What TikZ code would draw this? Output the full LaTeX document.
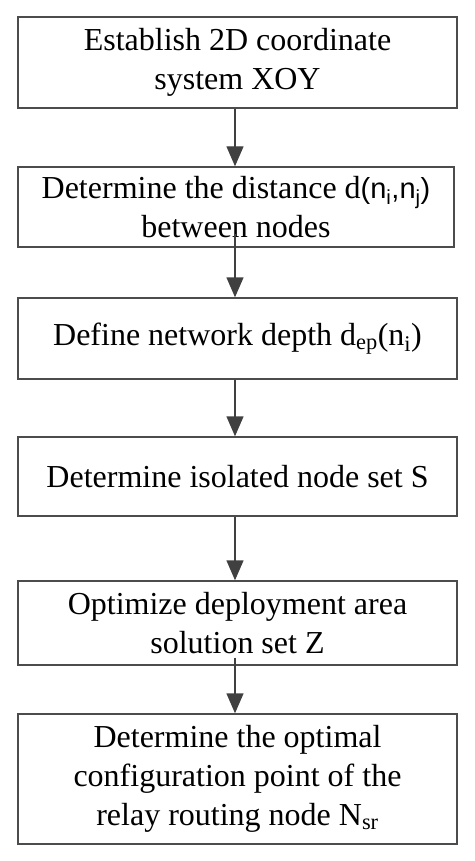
\documentclass[tikz,border=0pt]{standalone}
\usepackage{fontspec}
\setmainfont{Liberation Serif}
\newfontfamily\arialf{Liberation Sans}
\usetikzlibrary{arrows.meta,positioning}
\tikzset{
  stepbox/.style={draw=black!70, line width=1.4pt, inner sep=0pt, align=center,
    font=\fontsize{32}{39}\selectfont, text=black},
  arr/.style={draw=black!75, line width=1.4pt, -{Triangle[width=17pt,length=20pt]}, black!75}
}
\begin{document}
\begin{tikzpicture}[x=1pt,y=-1pt]
\useasboundingbox (0,0) rectangle (474,861);
\node[stepbox, minimum width=439pt, minimum height=91pt] (b1) at (237.5,62.5) {Establish 2D coordinate\\system XOY};
\node[stepbox, minimum width=436pt, minimum height=80pt] (b2) at (236,207) {Determine the distance d{\arialf\fontsize{29}{39}\selectfont(n\textsubscript{i},n\textsubscript{j})}\\between nodes};
\node[stepbox, minimum width=439pt, minimum height=81pt] (b3) at (237.5,338.5) {Define network depth d\textsubscript{ep}(n\textsubscript{i})};
\node[stepbox, minimum width=439pt, minimum height=79pt] (b4) at (237.5,476.5) {Determine isolated node set S};
\node[stepbox, minimum width=439pt, minimum height=84pt] (b5) at (237.5,623) {Optimize deployment area\\solution set Z};
\node[stepbox, minimum width=439pt, minimum height=130pt] (b6) at (237.5,779) {Determine the optimal\\configuration point of the\\relay routing node N\textsubscript{sr}};
\draw[arr] ([xshift=-2.5pt]b1.south) -- ([xshift=-2.5pt]b1.south |- b2.north);
\draw[arr] ([xshift=-1pt,yshift=14pt]b2.south) -- ([xshift=-1pt]b2.south |- b3.north);
\draw[arr] ([xshift=-2.5pt]b3.south) -- ([xshift=-2.5pt]b3.south |- b4.north);
\draw[arr] ([xshift=-2.5pt]b4.south) -- ([xshift=-2.5pt]b4.south |- b5.north);
\draw[arr] ([xshift=-2.5pt,yshift=8pt]b5.south) -- ([xshift=-2.5pt]b5.south |- b6.north);
\end{tikzpicture}
\end{document}
